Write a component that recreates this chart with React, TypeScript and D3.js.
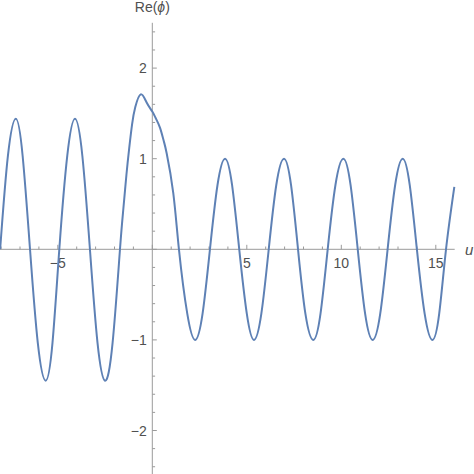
import React from "react";
import * as d3 from "d3";

// Values
const uValues = [
  -8.05, -7.64, -7.22, -6.86, -6.47, -6.06, -5.64, -5.28, -4.92, -4.5, -4.09, -3.7, -3.3, -2.9, -2.5, -2.1,
  -1.71, -1.53, -1.37, -1.22, -1.07, -0.9, -0.61, -0.3, 0, 0.2, 0.41, 0.6, 0.76, 1.11, 1.41, 1.85, 2.27, 2.66, 3.05,
  3.45, 3.85, 4.22, 4.6, 5.0, 5.38, 5.77, 6.16, 6.56, 6.97, 7.34, 7.71, 8.1, 8.52, 8.9, 9.28, 9.69, 10.11,
  10.49, 10.87, 11.26, 11.66, 12.06, 12.45, 12.85, 13.25, 13.62, 14.0, 14.41, 14.82, 15.18, 15.54, 15.98,
];
const rePhi = [
  0, 1.03, 1.44, 1.03, 0, -1.03, -1.45, -1.03, 0, 1.03, 1.44, 1.03, 0, -1.03, -1.45, -1.03,
  0, 0.45, 0.82, 1.12, 1.38, 1.57, 1.71, 1.62, 1.52, 1.44, 1.34, 1.2, 1.06, 0.62, 0, -0.71, -1.0, -0.71, 0,
  0.71, 1.0, 0.71, 0, -0.71, -1.0, -0.71, 0, 0.71, 1.0, 0.71, 0, -0.71, -1.0, -0.71, 0, 0.71, 1.0,
  0.71, 0, -0.71, -1.0, -0.71, 0, 0.71, 1.0, 0.71, 0, -0.71, -1.0, -0.71, 0, 0.69,
];
const xTickLabels = [-5, 5, 10, 15];
const yTickLabels = [-2, -1, 1, 2];
const xMinorTicks = d3.range(-8, 16);
const yMinorTicks = d3.range(-24, 25).map((v) => v / 10).filter((v) => Math.abs(Math.round(v * 5) - v * 5) < 1e-6);

const W = 474;
const H = 474;

export default function App() {
  const x = d3.scaleLinear().domain([0, 10]).range([152.3, 341.3]);
  const y = d3.scaleLinear().domain([0, 1]).range([249.3, 158.7]);
  const pts: [number, number][] = uValues.map((u, i) => [u, rePhi[i]]);
  const line = d3
    .line<[number, number]>()
    .x((d) => x(d[0]))
    .y((d) => y(d[1]))
    .curve(d3.curveNatural);

  const axisColor = "#9a9a9a";
  const textColor = "#505050";
  const font = "'Liberation Sans', Arial, sans-serif";
  const x0 = x(0);
  const y0 = y(0);

  return (
    <svg width={W} height={H} style={{ position: "absolute", left: 0, top: 0, background: "#fff" }}>
      {/* x axis */}
      <line x1={0} x2={454.7} y1={y0} y2={y0} stroke={axisColor} strokeWidth={1} />
      {xMinorTicks.map((t) => {
        const major = t % 5 === 0;
        return (
          <line key={"xt" + t} x1={x(t)} x2={x(t)} y1={y0} y2={y0 - (major ? 4.5 : 2.8)} stroke={axisColor} strokeWidth={1} />
        );
      })}
      {xTickLabels.map((t) => (
        <text key={"xl" + t} x={x(t)} y={y0 + 18.5} textAnchor="middle" fontSize={14} fill={textColor} fontFamily={font}>
          {t < 0 ? "\u2212" + Math.abs(t) : String(t)}
        </text>
      ))}
      <text x={465} y={255} fontSize={15} fontStyle="italic" fill={textColor} fontFamily={font}>
        u
      </text>

      {/* y axis */}
      <line x1={x0} x2={x0} y1={y(2.5)} y2={H} stroke={axisColor} strokeWidth={1} />
      {yMinorTicks.map((t) => {
        const major = Math.abs(t - Math.round(t)) < 1e-6;
        return (
          <line key={"yt" + t} x1={x0} x2={x0 + (major ? 4.5 : 2.8)} y1={y(t)} y2={y(t)} stroke={axisColor} strokeWidth={1} />
        );
      })}
      {yTickLabels.map((t) => (
        <text key={"yl" + t} x={x0 - 5.5} y={y(t) + 5} textAnchor="end" fontSize={14} fill={textColor} fontFamily={font}>
          {t < 0 ? "\u2212" + Math.abs(t) : String(t)}
        </text>
      ))}
      <text x={x0} y={12} textAnchor="middle" fontSize={14} fill={textColor} fontFamily={font}>
        Re(<tspan fontStyle="italic">ϕ</tspan>)
      </text>

      {/* curve */}
      <path d={line(pts) || ""} fill="none" stroke="#5E81B5" strokeWidth={2} strokeLinejoin="round" />
    </svg>
  );
}
